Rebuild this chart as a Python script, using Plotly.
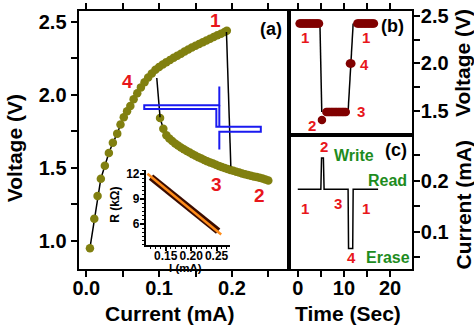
import plotly.graph_objects as go

FONT = "Liberation Sans"
OLIVE = "#818010"
DARKRED = "#800000"
RED = "#e8161b"
GREEN = "#1e8c1e"

# ---------------- Panel (a): V-I sweep ----------------
up_I = [0.005, 0.011, 0.0155, 0.020, 0.0255, 0.031, 0.0365, 0.0425, 0.047, 0.0515,
        0.056, 0.0605, 0.065, 0.070, 0.075, 0.080, 0.085, 0.090, 0.095, 0.100,
        0.105, 0.110, 0.115, 0.120, 0.125, 0.130, 0.135, 0.140, 0.145, 0.150,
        0.155, 0.160, 0.165, 0.170, 0.175, 0.180, 0.185, 0.190, 0.193]
up_V = [0.948, 1.15, 1.305, 1.424, 1.513, 1.60, 1.67, 1.733, 1.796, 1.845,
        1.886, 1.923, 1.968, 2.01, 2.05, 2.085, 2.118, 2.145, 2.17, 2.19,
        2.207, 2.223, 2.238, 2.253, 2.267, 2.281, 2.295, 2.31, 2.324, 2.336,
        2.348, 2.36, 2.372, 2.384, 2.395, 2.407, 2.418, 2.43, 2.438]

dn_I = [0.1013, 0.1058, 0.110, 0.114, 0.118, 0.122, 0.126, 0.130, 0.134, 0.138,
        0.142, 0.146, 0.150, 0.154, 0.158, 0.162, 0.166, 0.170, 0.174, 0.178,
        0.182, 0.186, 0.190, 0.194, 0.198, 0.202, 0.206, 0.210, 0.214, 0.218,
        0.222, 0.226, 0.230, 0.234, 0.238, 0.242, 0.246, 0.250]
dn_V = [1.840, 1.767, 1.722, 1.700, 1.682, 1.666, 1.651, 1.638, 1.626, 1.614,
        1.603, 1.592, 1.581, 1.571, 1.562, 1.553, 1.544, 1.536, 1.528, 1.520,
        1.512, 1.504, 1.497, 1.490, 1.484, 1.478, 1.472, 1.466, 1.460, 1.455,
        1.450, 1.445, 1.440, 1.435, 1.430, 1.425, 1.418, 1.411]

jump_I = [0.1925, 0.1985, None, 0.0968, 0.1013]
jump_V = [2.43, 1.51, None, 2.114, 1.845]

pulse_I = [0.1827, 0.1827, 0.0796, 0.0796, 0.1786, 0.1786, 0.2397, 0.2397, 0.1827, 0.1827,
           None, 0.1827, 0.1827]
pulse_V = [2.056, 1.928, 1.928, 1.901, 1.901, 1.780, 1.780, 1.746, 1.746, 1.625,
           None, 1.928, 1.780]

# inset R vs I
ins_I = [0.121, 0.140, 0.160, 0.180, 0.200, 0.220, 0.240, 0.253]
ins_R = [11.65, 10.70, 9.72, 8.74, 7.75, 6.78, 5.80, 5.15]
fit_I = [0.114, 0.259]
fit_R = [12.05, 4.75]

# ---------------- Panel (b): Voltage vs time ----------------
b_t1 = [0.4, 0.7, 1.0, 1.3, 1.6, 1.9, 2.2, 2.5, 2.8, 3.1, 3.4, 3.7, 4.0, 4.3, 4.6]
b_v1 = [2.42] * 15
b_t3 = [6.2, 6.5, 6.8, 7.1, 7.4, 7.7, 8.0, 8.3, 8.6, 8.9, 9.2, 9.5, 9.8, 10.1, 10.4]
b_v3 = [1.49] * 15
b_t1b = [12.9, 13.2, 13.5, 13.8, 14.1, 14.4, 14.7, 15.0, 15.3, 15.6, 15.9, 16.2, 16.5]
b_v1b = [2.42] * 13
b_t2 = [5.24]
b_v2 = [1.407]
b_t4 = [11.3, 11.6]
b_v4 = [2.0, 2.0]
b_line_t = [4.8, 5.2, None, 10.9, 11.45, 12.0]
b_line_v = [2.42, 1.49, None, 1.49, 2.0, 2.42]

# ---------------- Panel (c): Current vs time ----------------
c_t = [0, 5.0, 5.15, 5.55, 5.7, 10.9, 11.0, 11.9, 12.0, 17.4]
c_i = [0.183, 0.183, 0.244, 0.244, 0.183, 0.183, 0.067, 0.067, 0.183, 0.183]

# tick labels
a_xticks = [0, 0.05, 0.1, 0.15, 0.2, 0.25]
a_xlabels = ["0.0", "", "0.1", "", "0.2", ""]
a_yticks = [1.0, 1.25, 1.5, 1.75, 2.0, 2.25, 2.5]
a_ylabels = ["1.0", "", "1.5", "", "2.0", "", "2.5"]
b_yticks = [1.5, 1.75, 2.0, 2.25, 2.5]
b_ylabels = ["1.5", "", "2.0", "", "2.5"]
t_ticks = [0, 5, 10, 15, 20]
t_labels = ["0", "", "10", "", "20"]
c_yticks = [0.05, 0.1, 0.15, 0.2, 0.25]
c_ylabels = ["", "0.1", "", "0.2", ""]
ins_xticks = [0.15, 0.20, 0.25]
ins_xlabels = ["0.15", "0.20", "0.25"]
ins_yticks = [6, 9, 12]
ins_ylabels = ["6", "9", "12"]


def B(lst):
    return ["<b>%s</b>" % s if s else "" for s in lst]


fig = go.Figure()

# Panel (a)
fig.add_trace(go.Scatter(x=up_I, y=up_V, mode="lines+markers",
                         line=dict(color="black", width=1.5),
                         marker=dict(color=OLIVE, size=8.5), xaxis="x", yaxis="y"))
fig.add_trace(go.Scatter(x=dn_I, y=dn_V, mode="lines+markers",
                         line=dict(color="black", width=1.5),
                         marker=dict(color=OLIVE, size=8.5), xaxis="x", yaxis="y"))
fig.add_trace(go.Scatter(x=jump_I, y=jump_V, mode="lines",
                         line=dict(color="black", width=1.5), xaxis="x", yaxis="y"))
fig.add_trace(go.Scatter(x=pulse_I, y=pulse_V, mode="lines",
                         line=dict(color="#1a1af0", width=2), xaxis="x", yaxis="y"))

# Inset
fig.add_trace(go.Scatter(x=ins_I, y=ins_R, mode="lines",
                         line=dict(color="#3a0c00", width=7), xaxis="x4", yaxis="y4"))
fig.add_trace(go.Scatter(x=fit_I, y=fit_R, mode="lines",
                         line=dict(color="#ff8c1a", width=2.5), xaxis="x4", yaxis="y4"))

# Panel (b)
fig.add_trace(go.Scatter(x=b_line_t, y=b_line_v, mode="lines",
                         line=dict(color="black", width=1.5), xaxis="x2", yaxis="y2"))
for tt, vv in [(b_t1, b_v1), (b_t3, b_v3), (b_t1b, b_v1b), (b_t2, b_v2), (b_t4, b_v4)]:
    fig.add_trace(go.Scatter(x=tt, y=vv, mode="markers",
                             marker=dict(color=DARKRED, size=8.5), xaxis="x2", yaxis="y2"))

# Panel (c)
fig.add_trace(go.Scatter(x=c_t, y=c_i, mode="lines",
                         line=dict(color="black", width=1.5), xaxis="x3", yaxis="y3"))

tf = dict(family=FONT, size=20, color="black")
axbase = dict(showline=True, linecolor="black", linewidth=2, ticks="outside",
              ticklen=6, tickwidth=2, tickcolor="black", showgrid=False,
              zeroline=False, tickfont=tf, tickangle=0)


def W(px):
    return px / 474.0


def H(py):
    return 1 - py / 325.0


inset_base = dict(showline=True, linecolor="black", linewidth=2, ticks="outside",
                  ticklen=4, tickwidth=1.5, tickcolor="black", showgrid=False,
                  zeroline=False, tickangle=0,
                  tickfont=dict(family=FONT, size=12, color="black"))

layout = dict(
    width=474, height=325, margin=dict(l=0, r=0, t=0, b=0),
    paper_bgcolor="white", plot_bgcolor="rgba(0,0,0,0)", showlegend=False,
    font=dict(family=FONT, color="black"),
    xaxis=dict(axbase, domain=[W(73.5), W(287)], range=[-0.0106, 0.2789], anchor="y",
               mirror="ticks", tickvals=a_xticks, ticktext=B(a_xlabels),
               ticklabelstandoff=-6),
    yaxis=dict(axbase, domain=[H(268), H(5)], range=[0.805, 2.574], anchor="x",
               mirror=True, tickvals=a_yticks, ticktext=B(a_ylabels)),
    xaxis2=dict(axbase, domain=[W(287), W(411)], range=[-1.82, 24.7], anchor="y2",
                side="top", mirror=True, showticklabels=False, tickvals=t_ticks),
    yaxis2=dict(axbase, domain=[H(131), H(5)], range=[1.253, 2.552], anchor="x2",
                side="right", mirror=True, tickvals=b_yticks, ticktext=B(b_ylabels),
                ticklabelstandoff=-3),
    xaxis3=dict(axbase, domain=[W(287), W(411)], range=[-1.82, 24.7], anchor="y3",
                mirror=True, tickvals=t_ticks, ticktext=B(t_labels),
                ticklabelstandoff=-6),
    yaxis3=dict(axbase, domain=[H(268), H(131)], range=[0.0269, 0.29], anchor="x3",
                side="right", mirror=True, tickvals=c_yticks, ticktext=B(c_ylabels),
                ticklabelstandoff=-3),
    xaxis4=dict(inset_base, domain=[W(141.7), W(226.7)], range=[0.111, 0.276],
                anchor="y4", tickvals=ins_xticks, ticktext=B(ins_xlabels),
                ticklabelstandoff=-5,
                minor=dict(dtick=0.01, ticks="outside", ticklen=2, tickwidth=1)),
    yaxis4=dict(inset_base, domain=[H(243.3), H(166.7)], range=[3.5, 12.55],
                anchor="x4", tickvals=ins_yticks, ticktext=B(ins_ylabels),
                ticklabelstandoff=-2,
                minor=dict(dtick=0.5, ticks="outside", ticklen=2, tickwidth=1)),
)
fig.update_layout(**layout)

ann = []


def txt(x, y, s, size, color, xref="paper", yref="paper", angle=0):
    ann.append(dict(x=x, y=y, xref=xref, yref=yref, text="<b>%s</b>" % s,
                    showarrow=False, textangle=angle, xanchor="center",
                    yanchor="middle", borderpad=0,
                    font=dict(family=FONT, size=size, color=color)))


# axis titles
txt(W(8), H(145), "Voltage (V)", 21, "black", angle=-90)
txt(W(166), H(313), "Current (mA)", 21, "black")
txt(W(346), H(313), "Time (Sec)", 21, "black")
txt(W(463), H(58), "Voltage (V)", 21, "black", angle=-90)
txt(W(463), H(202), "Current (mA)", 21, "black", angle=-90)
txt(W(111), H(203), "R (kΩ)", 12, "black", angle=-90)
txt(W(182), H(267), "I (mA)", 11.5, "black")

# panel (a) labels
txt(0.177, 2.506, "1", 19, RED, "x", "y")
txt(0.057, 2.09, "4", 19, RED, "x", "y")
txt(0.179, 1.385, "3", 19, RED, "x", "y")
txt(0.238, 1.307, "2", 19, RED, "x", "y")
txt(0.2536, 2.45, "(a)", 18, "black", "x", "y")

# panel (b) labels
txt(1.67, 2.276, "1", 15, RED, "x2", "y2")
txt(14.87, 2.276, "1", 15, RED, "x2", "y2")
txt(14.5, 1.985, "4", 15, RED, "x2", "y2")
txt(13.6, 1.497, "3", 15, RED, "x2", "y2")
txt(3.1, 1.35, "2", 15, RED, "x2", "y2")
txt(20.6, 2.39, "(b)", 18, "black", "x2", "y2")

# panel (c) labels
txt(5.74, 0.2667, "2", 15, RED, "x3", "y3")
txt(12.2, 0.2487, "Write", 16, GREEN, "x3", "y3")
txt(21.3, 0.26, "(c)", 18, "black", "x3", "y3")
txt(19.5, 0.1994, "Read", 16, GREEN, "x3", "y3")
txt(1.67, 0.146, "1", 15, RED, "x3", "y3")
txt(8.66, 0.1544, "3", 15, RED, "x3", "y3")
txt(14.87, 0.146, "1", 15, RED, "x3", "y3")
txt(11.7, 0.0487, "4", 15, RED, "x3", "y3")
txt(19.6, 0.0487, "Erase", 16, GREEN, "x3", "y3")

fig.update_layout(annotations=ann)
fig.write_html("out.html")
